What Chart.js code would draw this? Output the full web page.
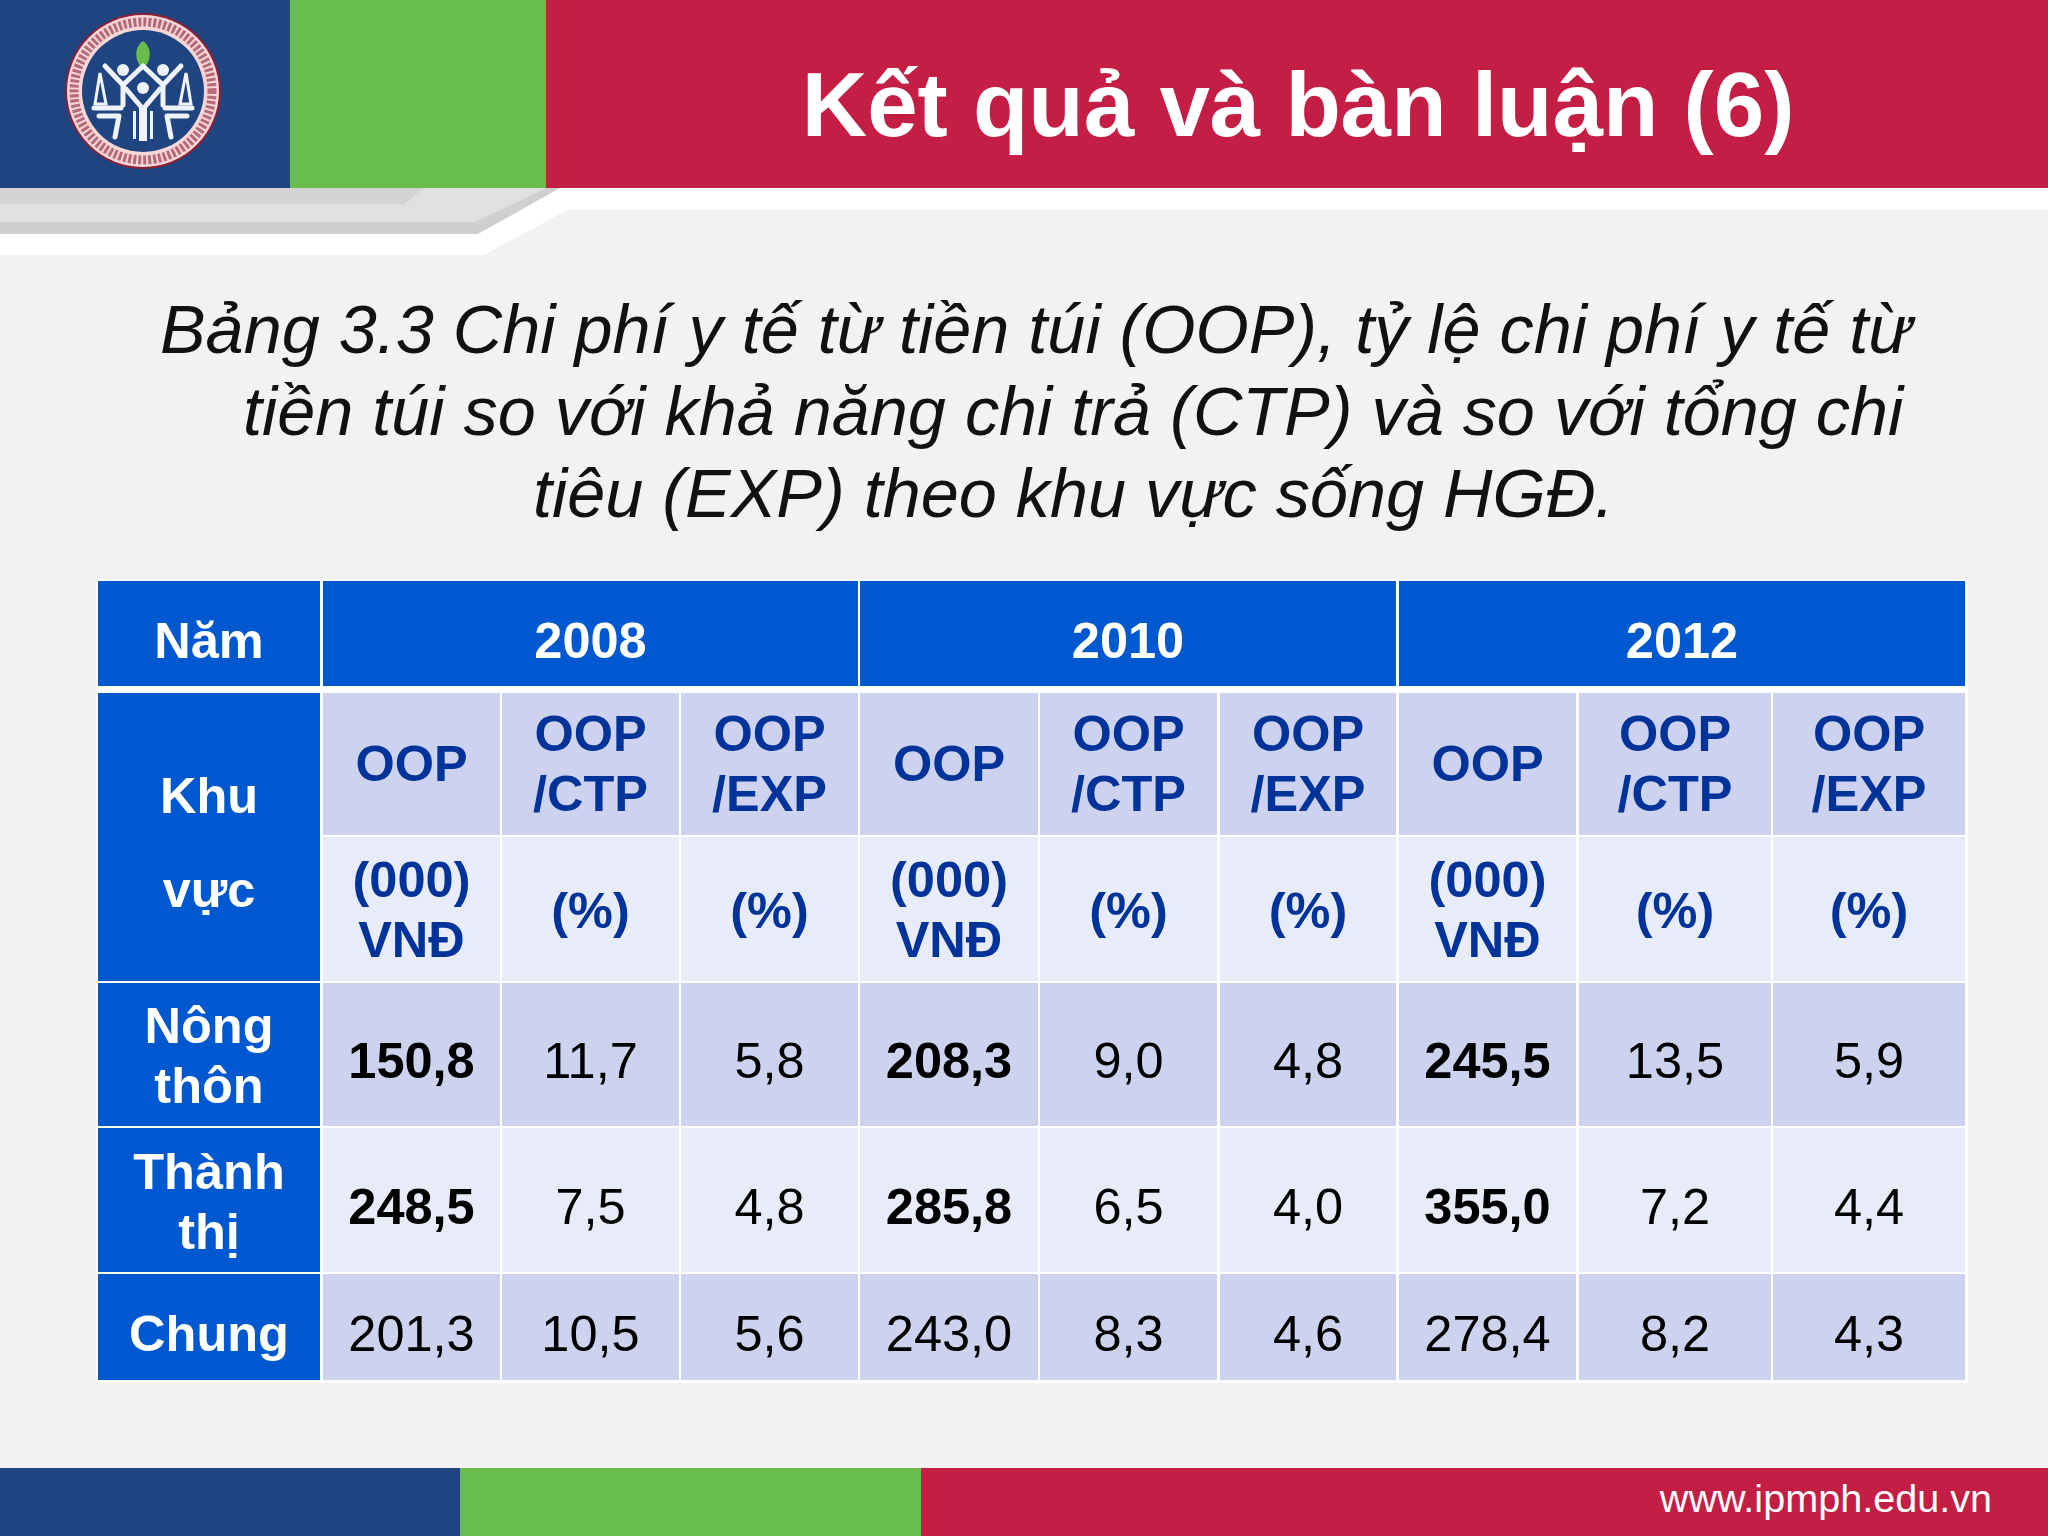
<!DOCTYPE html>
<html lang="vi">
<head>
<meta charset="utf-8">
<title>Kết quả và bàn luận (6)</title>
<script src="https://cdn.jsdelivr.net/npm/chart.js@4"></script>
<style>
    html, body { margin: 0; padding: 0; }
    body { width: 2048px; height: 1536px; position: relative; overflow: hidden; background: #f2f2f5; font-family: "Liberation Sans", Arial, sans-serif; }
    .abs { position: absolute; }
    #title { left: 546px; width: 1502px; top: 45px; height: 120px; line-height: 120px; padding-left: 1px; text-align: center; color: #fff; font-weight: bold; font-size: 90.7px; }
    .cap { white-space: nowrap; font-style: italic; font-size: 68.4px; line-height: 82px; color: #111; }
    #url { right: 56px; top: 1475px; font-size: 39.6px; line-height: 46px; color: #fff; }
    #table-wrap { left: 96px; top: 579px; width: 1872px; height: 804px; }
</style>
</head>
<body>
<svg class="abs" style="left:0;top:0" width="2048" height="270" viewBox="0 0 2048 270">
    <polygon points="0,188 2048,188 2048,210 567,210 484,255 0,255" fill="#fff"/>
    <polygon points="0,188 560,188 478,234 0,234" fill="#cfced0"/>
    <polygon points="0,188 547,188 475,222 0,222" fill="#e0e0df"/>
    <polygon points="0,188 424,188 404,204 0,204" fill="#d3d3d1"/>
    <rect x="0" y="0" width="290" height="188" fill="#1f4480"/>
    <rect x="290" y="0" width="256" height="188" fill="#69bd4b"/>
    <rect x="546" y="0" width="1502" height="188" fill="#c41e45"/>
    <g transform="translate(143 91)">
        <circle r="78" fill="#8f1f35"/>
        <circle r="76" fill="#f7d6d8"/>
        <circle r="69" fill="none" stroke="#b56a78" stroke-width="9" stroke-dasharray="3 2"/>
        <circle r="61" fill="#1f4480"/>
        <path d="M0 -50 C9 -44 9 -30 0 -22 C-9 -30 -9 -44 0 -50Z" fill="#69bd4b"/>
        <g fill="none" stroke="#eef2fa" stroke-width="5" stroke-linecap="round" stroke-linejoin="round">
            <path d="M-38 -25 L-20 -6 L0 -25 L20 -6 L38 -25"/>
            <path d="M-20 -6 L-20 14 M20 -6 L20 14"/>
            <path d="M-17 -2 L0 18 L17 -2"/>
            <path d="M-49 17 L-22 17 M49 17 L22 17"/>
            <path d="M-44 25 L-24 25 L-28 46 M44 25 L24 25 L28 46"/>
        </g>
        <path d="M-4 16 L4 16 L4 50 L-4 50Z M-10 20 L-7 20 L-7 48 L-10 48Z M10 20 L7 20 L7 48 L10 48Z" fill="#eef2fa"/>
        <path d="M-43 -18 L-37 13 L-48 13Z M43 -18 L37 13 L48 13Z" fill="none" stroke="#eef2fa" stroke-width="3"/>
        <circle cx="-20" cy="-21" r="6" fill="#eef2fa"/>
        <circle cx="20" cy="-21" r="6" fill="#eef2fa"/>
        <circle cx="0" cy="-3" r="6" fill="#eef2fa"/>
    </g>
</svg>
<div class="abs" id="title">Kết quả và bàn luận (6)</div>
<div class="abs cap" style="left:160px;top:288px">Bảng 3.3 Chi phí y tế từ tiền túi (OOP), tỷ lệ chi phí y tế từ</div>
<div class="abs cap" style="left:243px;top:370px">tiền túi so với khả năng chi trả (CTP) và so với tổng chi</div>
<div class="abs cap" style="left:533px;top:452px">tiêu (EXP) theo khu vực sống HGĐ.</div>
<div class="abs" id="table-wrap"><canvas id="bang" width="1872" height="804"></canvas></div>
<div class="abs" style="left:0;top:1468px;width:460px;height:68px;background:#1f4480"></div>
<div class="abs" style="left:460px;top:1468px;width:461px;height:68px;background:#69bd4b"></div>
<div class="abs" style="left:921px;top:1468px;width:1127px;height:68px;background:#c41e45"></div>
<div class="abs" id="url">www.ipmph.edu.vn</div>

<script>
(function () {
    'use strict';

    // du lieu bang
    var years = ['2008', '2010', '2012'];
    var yearLabel = 'Năm';
    var areaLabel = ['Khu', 'vực'];
    var measures = [['OOP'], ['OOP', '/CTP'], ['OOP', '/EXP']];
    var units = [['(000)', 'VNĐ'], ['(%)'], ['(%)']];
    var regions = [['Nông', 'thôn'], ['Thành', 'thị'], ['Chung']];
    var nongThon = [150.8, 11.7, 5.8, 208.3, 9.0, 4.8, 245.5, 13.5, 5.9];
    var thanhThi = [248.5, 7.5, 4.8, 285.8, 6.5, 4.0, 355.0, 7.2, 4.4];
    var chung = [201.3, 10.5, 5.6, 243.0, 8.3, 4.6, 278.4, 8.2, 4.3];

    // khung bang, don vi la pixel trong canvas
    var colX = [[2, 224], [227, 404], [406, 583], [585, 762], [764, 942], [944, 1121], [1124, 1300], [1303, 1480], [1483, 1675], [1677, 1869]];
    var rowY = [[2, 107], [114, 256], [258, 402], [404, 547], [549, 693], [695, 801]];

    var C_HEAD = '#0058d0';
    var C_DARK = '#cdd3ee';
    var C_LIGHT = '#e8ebf8';
    var C_BLUE = '#003399';
    var C_BLACK = '#000000';
    var FONT = '"Liberation Sans", Arial, sans-serif';

    function fmt(v) {
        return [v.toFixed(1).replace('.', ',')];
    }

    function cell(c0, c1, r0, r1, lines, fill, color, bold, opts) {
        var l = colX[c0][0], r = colX[c1][1], t = rowY[r0][0], b = rowY[r1][1];
        opts = opts || {};
        return {
            x: (l + r) / 2, y: (t + b) / 2,
            l: l, r: r, t: t, b: b,
            lines: lines, fill: fill, color: color, bold: bold,
            lh: opts.lh || 60, dy: opts.dy || 0
        };
    }

    function buildCells() {
        var out = [];
        var dark = [C_DARK, C_LIGHT, C_DARK];
        var rows = [nongThon, thanhThi, chung];
        out.push(cell(0, 0, 0, 0, [yearLabel], C_HEAD, '#fff', true, { dy: 11 }));
        out.push(cell(0, 0, 1, 2, areaLabel, C_HEAD, '#fff', true, { lh: 94, dy: 9 }));
        years.forEach(function (y, i) {
            var c0 = 1 + i * 3;
            out.push(cell(c0, c0 + 2, 0, 0, [y], C_HEAD, '#fff', true, { dy: 11 }));
            for (var k = 0; k < 3; k++) {
                out.push(cell(c0 + k, c0 + k, 1, 1, measures[k], C_DARK, C_BLUE, true, { dy: 3 }));
                out.push(cell(c0 + k, c0 + k, 2, 2, units[k], C_LIGHT, C_BLUE, true, { dy: k === 0 ? 4 : 5 }));
            }
        });
        rows.forEach(function (vals, ri) {
            out.push(cell(0, 0, 3 + ri, 3 + ri, regions[ri], C_HEAD, '#fff', true, { dy: ri === 2 ? 10 : 5 }));
            vals.forEach(function (v, vi) {
                var isBold = ri < 2 && vi % 3 === 0;
                out.push(cell(1 + vi, 1 + vi, 3 + ri, 3 + ri, fmt(v), dark[ri], C_BLACK, isBold, { dy: 10 }));
            });
        });
        return out;
    }

    // ve o va chu theo scale cua chart
    var cellPlugin = {
        id: 'cellPlugin',
        beforeDatasetsDraw: function (chart) {
            var ctx = chart.ctx;
            var sx = chart.scales.x, sy = chart.scales.y;
            var pts = chart.getDatasetMeta(0).data;
            chart.data.datasets[0].data.forEach(function (c, i) {
                var x0 = sx.getPixelForValue(c.l), x1 = sx.getPixelForValue(c.r);
                var y0 = sy.getPixelForValue(c.t), y1 = sy.getPixelForValue(c.b);
                ctx.fillStyle = c.fill;
                ctx.fillRect(x0, y0, x1 - x0, y1 - y0);
                ctx.fillStyle = c.color;
                ctx.font = (c.bold ? 'bold ' : '') + '50.5px ' + FONT;
                ctx.textAlign = 'center';
                ctx.textBaseline = 'middle';
                var top = pts[i].y + c.dy - (c.lines.length - 1) * c.lh / 2;
                c.lines.forEach(function (s, n) {
                    ctx.fillText(s, pts[i].x, top + n * c.lh);
                });
            });
        }
    };

    function init() {
        new Chart(document.getElementById('bang').getContext('2d'), {
            type: 'scatter',
            data: { datasets: [{ data: buildCells(), pointRadius: 0, pointHoverRadius: 0 }] },
            options: {
                responsive: false,
                animation: false,
                layout: { padding: 0 },
                plugins: { legend: { display: false }, tooltip: { enabled: false }, title: { display: false } },
                scales: {
                    x: { type: 'linear', min: 0, max: 1872, display: false },
                    y: { type: 'linear', min: 0, max: 804, reverse: true, display: false }
                }
            },
            plugins: [{
                id: 'nen',
                beforeDraw: function (chart) {
                    chart.ctx.fillStyle = '#fff';
                    chart.ctx.fillRect(0, 0, chart.width, chart.height);
                }
            }, cellPlugin]
        });
    }

    init();
})();
</script>
</body>
</html>
